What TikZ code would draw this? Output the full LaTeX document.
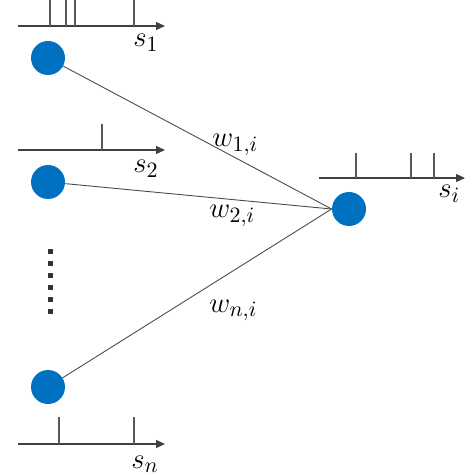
\documentclass[tikz,border=0pt]{standalone}
\usetikzlibrary{arrows.meta}
\definecolor{nblue}{RGB}{0,112,192}
\tikzset{
  neuron/.style={circle,fill=nblue,minimum size=17pt,inner sep=0pt},
  axis/.style={-{Triangle[length=4.5pt,width=4pt]},draw=black!75,line width=0.55pt},
  spike/.style={draw=black!65,line width=0.55pt},
  synapse/.style={draw=black!70,line width=0.45pt},
  lbl/.style={font=\fontsize{15}{18}\selectfont,inner sep=0pt}
}
\begin{document}
\begin{tikzpicture}[x=0.5pt,y=-0.5pt]
\useasboundingbox (0,0) rectangle (474,475);

% input neurons and output neuron
\node[neuron] (n1) at (48,58) {};
\node[neuron] (n2) at (48,182) {};
\node[neuron] (nn) at (48,387) {};
\node[neuron] (ni) at (349,209) {};

% vertical dots
\foreach \y in {251,263,275,287,299,311}
  \fill[black!80] (47.5,\y-2.5) rectangle ++(5,5);

% synapses
\draw[synapse] (n1) -- (ni.west);
\draw[synapse] (n2) -- (ni.west);
\draw[synapse] (nn) -- (ni.west);
\node[lbl,anchor=base west] (w1) at (212,147) {$w_{1,i}$};
\node[lbl,anchor=base west] (w2) at (209,218) {$w_{2,i}$};
\node[lbl,anchor=base west] (wn) at (209,312) {$w_{n,i}$};

% spike train s_1
\draw[axis] (18,26) -- (165,26);
\foreach \t in {50,66,75,134} \draw[spike] (\t,0) -- (\t,26);
\node[lbl,anchor=base west] (s1) at (133,47) {$s_1$};

% spike train s_2
\draw[axis] (18,150) -- (165,150);
\draw[spike] (102,124) -- (102,150);
\node[lbl,anchor=base west] (s2) at (133,173) {$s_2$};

% spike train s_n
\draw[axis] (18,444) -- (165,444);
\foreach \t in {59,134} \draw[spike] (\t,417) -- (\t,444);
\node[lbl,anchor=base west] (sn) at (131,468) {$s_n$};

% output spike train s_i
\draw[axis] (319,178) -- (465,178);
\foreach \t in {356,411,434} \draw[spike] (\t,153) -- (\t,178);
\node[lbl,anchor=base west] (si) at (438,198) {$s_i$};
\end{tikzpicture}
\end{document}
